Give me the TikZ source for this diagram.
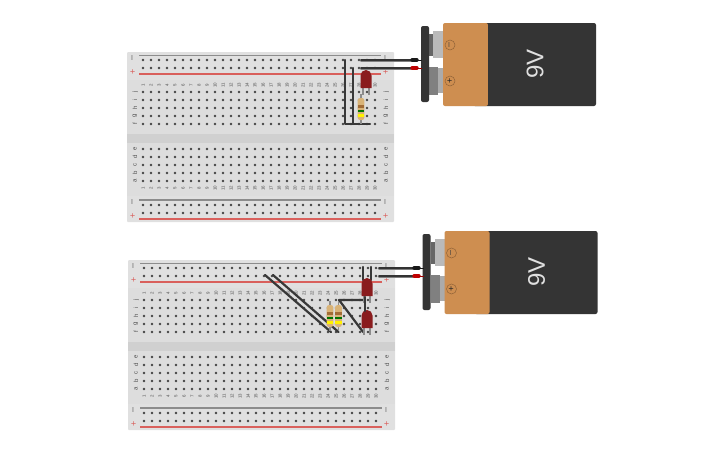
\documentclass[tikz,border=0pt]{standalone}
\usepackage{fontspec}
\setmainfont{Liberation Sans}
\definecolor{boardc}{HTML}{E0E0E0}
\definecolor{termc}{HTML}{DDDDDD}
\definecolor{stripc}{HTML}{D0D0D0}
\definecolor{railred}{HTML}{D9605C}
\definecolor{railgray}{HTML}{8C8C8C}
\definecolor{holec}{HTML}{2E2E2E}
\definecolor{wirec}{HTML}{383838}
\definecolor{ledc}{HTML}{8A1C1E}
\definecolor{bandtan}{HTML}{D9B377}
\definecolor{orangec}{HTML}{CE8E50}
\definecolor{batc}{HTML}{343434}
\tikzset{
  tinylabel/.style={font=\fontsize{4.4}{4.4}\selectfont,text=black!70,inner sep=0pt,rotate=90},
  letterlabel/.style={font=\fontsize{6}{6}\selectfont,text=black!70,inner sep=0pt,rotate=90},
  signlabel/.style={font=\fontsize{9}{9}\selectfont,inner sep=0pt,rotate=90},
  wire/.style={draw=wirec,line width=2.2pt,line cap=round,line join=round},
  leadwire/.style={draw=black!50,line width=3pt,line cap=round},
  leadcore/.style={draw=black!80,line width=1.2pt,line cap=round},
  lead/.style={draw=black!45,line width=1.2pt},
}
\newcommand{\myboard}[1]{%
  \fill[boardc,rounded corners=1pt] (0,0) rectangle (267,170);
  \fill[termc] (0,28) rectangle (267,82);
  \fill[stripc] (0,82) rectangle (267,91);
  \fill[termc] (0,91) rectangle (267,144);
  \draw[railgray,line width=1.3pt] (12,3.5) -- (254,3.5);
  \draw[railred,line width=1.3pt] (12,22) -- (254,22);
  \draw[railgray,line width=1.3pt] (12,148) -- (254,148);
  \draw[railred,line width=1.3pt] (12,167) -- (254,167);
  \foreach \c in {1,...,30}{
    \pgfmathsetmacro{\xx}{16+(\c-1)*8.0}
    \foreach \yy in {8,16,40,48,56,64,72,97,105,113,121,129,153,161}{
      \fill[black!30] (\xx,\yy) circle (1.7);
      \fill[holec] (\xx,\yy) circle (1.15);
    }
    \node[tinylabel] (#1n\c) at (\xx,33) {\c};
    \node[tinylabel] (#1m\c) at (\xx,136) {\c};
  }
  \foreach \l/\yy in {j/40,i/48,h/56,g/64,f/72,e/97,d/105,c/113,b/121,a/129}{
    \node[letterlabel] (#1l\l) at (8,\yy) {\l};
    \node[letterlabel] (#1r\l) at (259,\yy) {\l};
  }
  \node[signlabel,text=black!65] (#1a) at (6,6) {--};
  \node[signlabel,text=railred] (#1b) at (6,20) {+};
  \node[signlabel,text=black!65] (#1c) at (259,6) {--};
  \node[signlabel,text=railred] (#1d) at (259,20) {+};
  \node[signlabel,text=black!65] (#1e) at (6,150) {--};
  \node[signlabel,text=railred] (#1f) at (6,164) {+};
  \node[signlabel,text=black!65] (#1g) at (259,150) {--};
  \node[signlabel,text=railred] (#1h) at (259,164) {+};
}
\newcommand{\mybattery}[1]{%
  \fill[black!60] (-14,11) rectangle (-10,33);
  \fill[black!27] (-10,8) rectangle (0,35);
  \fill[black!50] (-14,44) rectangle (-5,72);
  \fill[black!33] (-5,45) rectangle (0,70);
  \fill[batc,rounded corners=2pt] (-22,3) rectangle (-14,79);
  \fill[batc,rounded corners=2pt] (30,0) rectangle (153,83);
  \fill[orangec,rounded corners=2pt] (0,0) rectangle (45,83);
  \fill[batc] (45,0) rectangle (60,83);
  \draw[orangec!70!black,line width=.5pt] (7,22) circle (5);
  \draw[orangec!70!black,line width=.5pt] (7,58) circle (5);
  \node[signlabel,text=black!75] (#1minus) at (7,22) {--};
  \node[signlabel,text=black!85] (#1plus) at (7,58) {+};
  \node[font=\fontsize{24}{24}\selectfont,text=black!12,rotate=90,inner sep=0pt] (#1volt) at (92,41) {9V};
}
\newcommand{\myled}[2]{%
  \draw[lead] (#2-3,14) -- (#2-3,25);
  \draw[lead] (#2+3,14) -- (#2+3,25);
  \fill[ledc] (#2-5.5,18) -- (#2-5.5,5.5) arc (180:360:5.5) -- (#2+5.5,18) -- cycle;
}
\newcommand{\myres}[3]{%
  \draw[lead] (#1,#2-4) -- (#1,#2+26);
  \fill[bandtan,rounded corners=2.5pt] (#1-3.4,#2) rectangle (#1+3.4,#2+22);
  \fill[brown!85!black] (#1-3.4,#2+7) rectangle (#1+3.4,#2+9.5);
  \fill[green!45!black] (#1-3.4,#2+11.5) rectangle (#1+3.4,#2+14);
  \fill[yellow] (#1-3.4,#2+16) rectangle (#1+3.4,#2+18.5);
}
\begin{document}
\begin{tikzpicture}[x=1pt,y=-1pt]
\useasboundingbox (0,0) rectangle (725,453);
\fill[white] (0,0) rectangle (725,453);

% ===== upper circuit
\begin{scope}[shift={(127,52)}]\myboard{A}\end{scope}
\begin{scope}[shift={(443,23)}]\mybattery{B}\end{scope}
\coordinate (a1) at (361,60);
\coordinate (a2) at (411,60);
\coordinate (a3) at (361,68);
\coordinate (a4) at (411,68);
\coordinate (a5) at (345,60);
\coordinate (a6) at (345,124);
\coordinate (a7) at (353,68);
\coordinate (a8) at (353,124);
\coordinate (a9) at (370,124);
\draw[leadwire] (a1) -- (a2);
\draw[leadcore] (a1) -- (a2);
\draw[leadwire] (a3) -- (a4);
\draw[leadcore] (a3) -- (a4);
\draw[black!90,line width=3.4pt,line cap=round] (a2) ++(1,0) -- ++(5,0);
\draw[black!90,line width=1pt] (a2) ++(6,0) -- ++(5,0);
\draw[red!75!black,line width=3.4pt,line cap=round] (a4) ++(1,0) -- ++(5,0);
\draw[red!60!black,line width=1pt] (a4) ++(6,0) -- ++(5,0);
\draw[wire] (a5) -- (a6) -- (a9);
\draw[wire] (a7) -- (a8);
\begin{scope}[shift={(0,70)}]\myled{}{366}\end{scope}
\myres{361}{98}{}

% ===== lower circuit
\begin{scope}[shift={(128,260)}]\myboard{C}\end{scope}
\begin{scope}[shift={(444.5,231)}]\mybattery{D}\end{scope}
\coordinate (c1) at (265,275);
\coordinate (c2) at (331,332);
\coordinate (c3) at (273,275);
\coordinate (c4) at (338.5,332);
\coordinate (c5) at (339,300);
\coordinate (c6) at (365,300);
\coordinate (c7) at (363,332);
\coordinate (c8) at (379,268);
\coordinate (c9) at (413,268);
\coordinate (c10) at (379,276);
\coordinate (c11) at (413,276);
\coordinate (c12) at (363,267);
\coordinate (c13) at (363,280);
\coordinate (c14) at (371,267);
\coordinate (c15) at (371,280);
\draw[wire] (c1) -- (c2);
\draw[wire] (c3) -- (c4);
\draw[wire] (c6) -- (c5) -- (c7);
\draw[leadwire] (c8) -- (c9);
\draw[leadcore] (c8) -- (c9);
\draw[leadwire] (c10) -- (c11);
\draw[leadcore] (c10) -- (c11);
\draw[black!90,line width=3.4pt,line cap=round] (c9) ++(1,0) -- ++(5,0);
\draw[black!90,line width=1pt] (c9) ++(6,0) -- ++(5,0);
\draw[red!75!black,line width=3.4pt,line cap=round] (c11) ++(1,0) -- ++(5,0);
\draw[red!60!black,line width=1pt] (c11) ++(6,0) -- ++(5,0);
\draw[wire] (c12) -- (c13);
\draw[wire] (c14) -- (c15);
\begin{scope}[shift={(0,278)}]\myled{}{367}\end{scope}
\begin{scope}[shift={(0,310)}]\myled{}{367}\end{scope}
\draw[wire] (365,297) -- (365,311);
\myres{330}{305}{}
\myres{338.5}{305}{}
\end{tikzpicture}
\end{document}
